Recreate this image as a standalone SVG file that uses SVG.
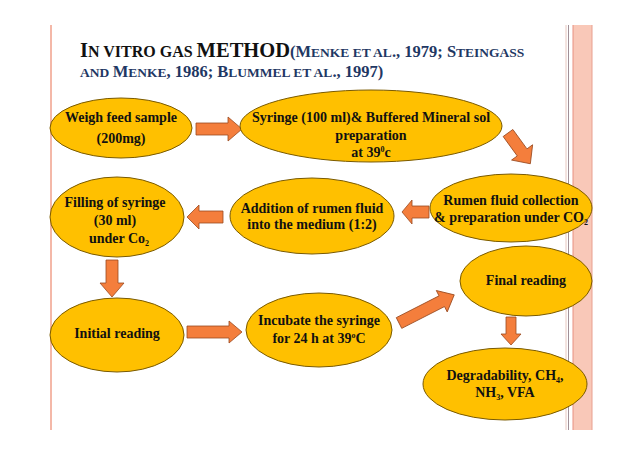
<svg xmlns="http://www.w3.org/2000/svg" width="638" height="452" viewBox="0 0 638 452">
<style>
.n{fill:#FFC000;stroke:#7a5a00;stroke-width:1}
.t{font-family:"Liberation Serif",serif;font-weight:bold;font-size:14px;fill:#111;text-anchor:middle}
.a{fill:#F47E3C;stroke:#9a4a20;stroke-width:0.8}
</style>
<rect width="638" height="452" fill="#fff"/>
<line x1="51" y1="25" x2="51" y2="430" stroke="#F4B8A8" stroke-width="2"/>
<rect x="573" y="25" width="19" height="405" fill="#F9C8B8"/>
<line x1="566" y1="25" x2="566" y2="430" stroke="#E8C8C0" stroke-width="1"/>
<line x1="568.5" y1="25" x2="568.5" y2="430" stroke="#A09098" stroke-width="1"/>
<line x1="573" y1="25" x2="573" y2="430" stroke="#E89080" stroke-width="1"/>
<line x1="592" y1="25" x2="592" y2="430" stroke="#E8A090" stroke-width="1"/>
<text x="80" y="57" font-family="'Liberation Serif', serif" font-weight="bold" fill="#111" font-size="20.5"><tspan font-family="'Liberation Serif', serif">I</tspan><tspan font-family="'Liberation Serif', serif" font-size="16">N VITRO GAS </tspan><tspan font-family="'Liberation Serif', serif">METHOD</tspan><tspan font-family="'Liberation Serif', serif" fill="#1F3864" font-size="16.5">(M<tspan font-size="13.5">ENKE ET AL</tspan>., 1979; S<tspan font-size="13.5">TEINGASS</tspan></tspan></text>
<text x="80" y="77" font-family="'Liberation Serif', serif" font-weight="bold" fill="#1F3864" font-size="16.5"><tspan font-size="13.5">AND </tspan>M<tspan font-size="13.5">ENKE</tspan>, 1986; B<tspan font-size="13.5">LUMMEL ET AL</tspan>., 1997)</text>
<g id="connectors">
<polygon class="a" points="0,-6 32,-6 32,-12 46,0 32,12 32,6 0,6" transform="translate(196,129)"/>
<polygon class="a" points="0,-6 24,-6 24,-13 38,0 24,13 24,6 0,6" transform="translate(508,133) rotate(54)"/>
<polygon class="a" points="0,-6 17,-6 17,-12 27,0 17,12 17,6 0,6" transform="translate(429,212) rotate(180)"/>
<polygon class="a" points="0,-6 24,-6 24,-12 36,0 24,12 24,6 0,6" transform="translate(223,217) rotate(180)"/>
<polygon class="a" points="0,-6 23,-6 23,-12 37,0 23,12 23,6 0,6" transform="translate(112,260) rotate(90)"/>
<polygon class="a" points="0,-6 42,-6 42,-11 55,0 42,11 42,6 0,6" transform="translate(187,332)"/>
<polygon class="a" points="0,-6 48,-6 48,-12 62,0 48,12 48,6 0,6" transform="translate(399,323) rotate(-27)"/>
<polygon class="a" points="0,-5 17,-5 17,-10 28,0 17,10 17,5 0,5" transform="translate(511,317) rotate(90)"/>
</g>
<g id="n1"><ellipse class="n" cx="121" cy="128" rx="71" ry="30"/><text class="t" x="121" y="122">Weigh feed sample</text><text class="t" x="121" y="143">(200mg)</text></g>
<g id="n2"><ellipse class="n" cx="371" cy="126" rx="131" ry="36"/><text class="t" x="371" y="122" font-size="14.5">Syringe (100 ml)&amp; Buffered Mineral sol</text><text class="t" x="371" y="140" font-size="14.5">preparation</text><text class="t" x="371" y="157" font-size="14.5">at 39<tspan font-size="8" dy="-5">0</tspan><tspan dy="5">c</tspan></text></g>
<g id="n3"><ellipse class="n" cx="511" cy="208" rx="81" ry="34"/><text class="t" x="511" y="205" font-size="13.5">Rumen fluid collection</text><text class="t" x="511" y="222" font-size="13.5">&amp; preparation under CO<tspan font-size="8" dy="3">2</tspan></text></g>
<g id="n4"><ellipse class="n" cx="312" cy="216" rx="82" ry="38"/><text class="t" x="312" y="213" font-size="13">Addition of rumen fluid</text><text class="t" x="312" y="229" font-size="13">into the medium (1:2)</text></g>
<g id="n5"><ellipse class="n" cx="117" cy="217" rx="67" ry="40"/><text class="t" x="115" y="207">Filling of syringe</text><text class="t" x="115" y="225">(30 ml)</text><text class="t" x="119" y="243">under Co<tspan font-size="8" dy="3">2</tspan></text></g>
<g id="n6"><ellipse class="n" cx="117" cy="335" rx="67" ry="37"/><text class="t" x="117" y="338">Initial reading</text></g>
<g id="n7"><ellipse class="n" cx="319" cy="330" rx="73" ry="37"/><text class="t" x="319" y="325">Incubate the syringe</text><text class="t" x="319" y="343">for 24 h at 39<tspan font-size="8" dy="-5">o</tspan><tspan dy="5">C</tspan></text></g>
<g id="n8"><ellipse class="n" cx="526" cy="281" rx="66" ry="35"/><text class="t" x="526" y="285">Final reading</text></g>
<g id="n9"><ellipse class="n" cx="505" cy="384" rx="82" ry="36"/><text class="t" x="505" y="380">Degradability, CH<tspan font-size="8" dy="3">4</tspan><tspan dy="-3">,</tspan></text><text class="t" x="505" y="397">NH<tspan font-size="8" dy="3">3</tspan><tspan dy="-3">, VFA</tspan></text></g>
</svg>
